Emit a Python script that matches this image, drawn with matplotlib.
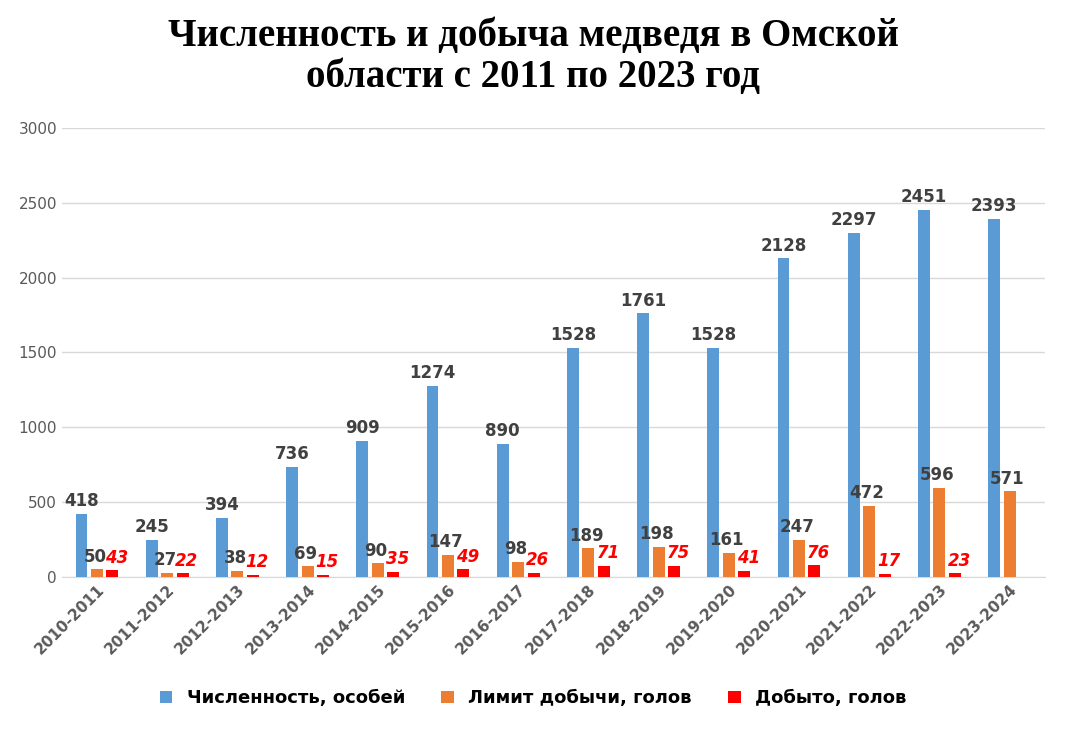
import numpy as np
import matplotlib.pyplot as plt

seasons = ["2010-2011", "2011-2012", "2012-2013", "2013-2014", "2014-2015",
           "2015-2016", "2016-2017", "2017-2018", "2018-2019", "2019-2020",
           "2020-2021", "2021-2022", "2022-2023", "2023-2024"]
population = [418, 245, 394, 736, 909, 1274, 890, 1528, 1761, 1528, 2128, 2297, 2451, 2393]
quota = [50, 27, 38, 69, 90, 147, 98, 189, 198, 161, 247, 472, 596, 571]
harvested = [43, 22, 12, 15, 35, 49, 26, 71, 75, 41, 76, 17, 23, None]

blue = "#5b9bd5"
orange = "#ed7d31"
red = "#ff0000"
gray = "#404040"

fig = plt.figure(figsize=(10.66, 7.31), dpi=100)
ax = fig.add_axes([0.058, 0.211, 0.922, 0.614])
x = np.arange(len(seasons))
w = 0.17
d = 0.22

ax.bar(x - d, population, w, color=blue, label="Численность, особей", zorder=3)
ax.bar(x, quota, w, color=orange, label="Лимит добычи, голов", zorder=3)
hx = [xi + d for xi, h in zip(x, harvested) if h is not None]
hv = [h for h in harvested if h is not None]
ax.bar(hx, hv, w, color=red, label="Добыто, голов", zorder=3)

for xi, v in zip(x, population):
    ax.text(xi - d, v + 25, str(v), ha="center", va="bottom",
            fontsize=12, fontweight="bold", color=gray)
for xi, v in zip(x, quota):
    ax.text(xi - 0.03, v + 25, str(v), ha="center", va="bottom",
            fontsize=12, fontweight="bold", color=gray)
for xi, v in zip(hx, hv):
    ax.text(xi + 0.06, v + 25, str(v), ha="center", va="bottom",
            fontsize=12, fontweight="bold", fontstyle="italic", color=red)

ax.set_xlim(-0.5, len(seasons) - 0.5)
ax.set_ylim(0, 3000)
ax.set_yticks(range(0, 3001, 500))
ax.grid(axis="y", color="#d9d9d9", lw=1, zorder=0)
for s in ["top", "right", "left"]:
    ax.spines[s].set_visible(False)
ax.spines["bottom"].set_color("#d9d9d9")
ax.tick_params(axis="both", length=0, colors="#595959", labelsize=11)
ax.set_xticks(x)
ax.set_xticklabels(seasons, rotation=45, ha="right", rotation_mode="anchor",
                   fontweight="bold", color="#595959")

fig.suptitle("Численность и добыча медведя в Омской\nобласти с 2011 по 2023 год",
             y=0.975, fontsize=28, fontweight="bold", family="Liberation Serif",
             linespacing=1.15)
fig.legend(loc="lower center", bbox_to_anchor=(0.5, 0.01), ncol=3, frameon=False,
           handlelength=0.7, handleheight=0.7, columnspacing=2,
           prop={"weight": "bold", "size": 13})
fig.savefig("out.png")
